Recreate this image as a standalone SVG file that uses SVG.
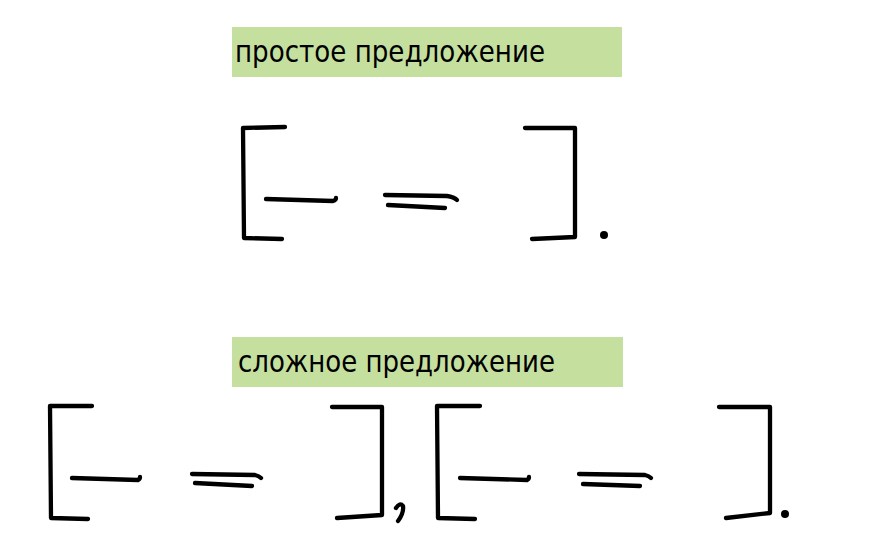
<svg xmlns="http://www.w3.org/2000/svg" width="884" height="555" viewBox="0 0 884 555">
<style>
.lbl{fill:#c5df9f}
.t{font-family:"DejaVu Sans","Noto Sans",sans-serif;font-size:31px;fill:#000}
.s{fill:none;stroke:#000;stroke-width:4.3;stroke-linecap:round;stroke-linejoin:round}
</style>
<rect width="884" height="555" fill="#fff"/>
<g id="label-simple">
<rect class="lbl" x="232" y="27" width="390" height="50"/>
<text class="t" x="235" y="62" textLength="310" lengthAdjust="spacingAndGlyphs">простое предложение</text>
</g>
<g id="scheme-simple">
<path class="s" d="M285 127 L243 128 L244 238 L282 239"/>
<path class="s" d="M266 199 L333 201 Q336 200 336 198"/>
<path class="s" d="M385 195 L447 196 Q454 197 457 200"/>
<path class="s" d="M388 205 L445 208"/>
<path class="s" d="M525 128 L575 128 L575 237 L532 239"/>
<circle cx="604" cy="235" r="4"/>
</g>
<g id="label-complex">
<rect class="lbl" x="232" y="337" width="391" height="50"/>
<text class="t" x="238" y="372" textLength="317" lengthAdjust="spacingAndGlyphs">сложное предложение</text>
</g>
<g id="scheme-complex">
<path class="s" d="M92 406 L50 406 L51 518 L88 519"/>
<path class="s" d="M72 478 L138 480 Q140 479 140 477"/>
<path class="s" d="M192 474 L255 475 Q259 476 261 478"/>
<path class="s" d="M195 483 L252 486"/>
<path class="s" d="M332 407 L382 407 L382 515 L337 518"/>
<path class="s" d="M396 508 Q400 502 403 506 Q404 513 398 521"/>
<path class="s" d="M480 406 L437 406 L438 518 L475 519"/>
<path class="s" d="M460 478 L527 480 Q529 479 529 477"/>
<path class="s" d="M579 474 L645 475 Q649 476 651 478"/>
<path class="s" d="M583 484 L640 486"/>
<path class="s" d="M719 407 L770 407 L770 513 L726 518"/>
<circle cx="785" cy="514" r="4"/>
</g>
</svg>
